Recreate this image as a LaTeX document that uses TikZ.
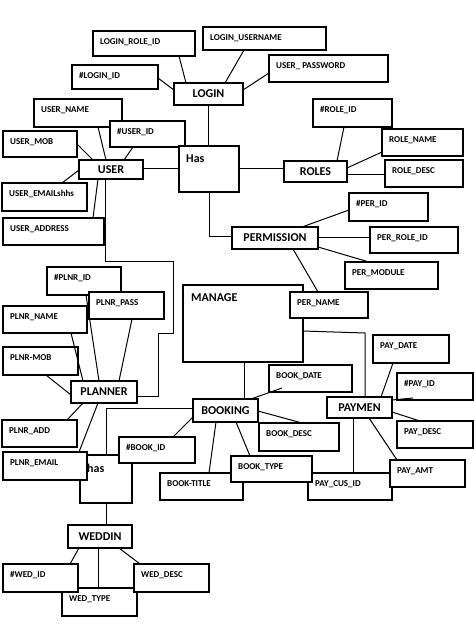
\documentclass[tikz,border=0pt]{standalone}
\usepackage{fontspec}
\setmainfont{Carlito}
\tikzset{
  boxst/.style={draw=black, line width=1.8pt, fill=white, inner sep=0pt, outer sep=0pt, line join=miter},
  attrtxt/.style={font=\fontsize{9}{10}\selectfont\bfseries, inner sep=0pt},
  enttxt/.style={font=\fontsize{12}{14}\selectfont\bfseries},
  reltxt/.style={font=\fontsize{12}{14}\selectfont\bfseries, inner sep=0pt},
  conn/.style={draw=black, line width=1pt},
}
% plain box: name x1 y1 x2 y2
\newcommand\ebox[5]{\node[boxst, minimum width={#4-#2}, minimum height={#5-#3}, anchor=north west] (#1) at (#2,#3) {};}
% attribute box with text at upper left
\newcommand\attr[6]{\ebox{#1}{#2}{#3}{#4}{#5}\node[attrtxt, anchor=base west] (#1-t) at ([shift={(7,13)}]#1.north west) {#6};}
% entity box with centred text
\newcommand\ent[6]{\node[boxst, enttxt, minimum width={#4-#2}, minimum height={#5-#3}, anchor=north west] (#1) at (#2,#3) {#6};}
\begin{document}
\begin{tikzpicture}[x=1pt, y=-1pt]
\useasboundingbox (0,0) rectangle (474,632);
% ---------- boxes ----------
\attr{lri}{93}{31}{195}{56}{LOGIN\_ROLE\_ID}
\attr{lun}{203}{27}{326}{50}{LOGIN\_USERNAME}
\attr{lid}{72}{65}{158}{89}{\#LOGIN\_ID}
\attr{upw}{269}{55}{388}{82}{USER\_ PASSWORD}
\ent{login}{174}{83}{243}{105}{LOGIN}
\attr{uname}{34}{99}{122}{127}{USER\_NAME}
\attr{uid}{110}{121}{185}{147}{\#USER\_ID}
\attr{umob}{3}{131}{77}{157}{USER\_MOB}
\ebox{has1}{179}{146}{239}{192}
\node[reltxt, anchor=base west] (has1-t) at ([shift={(7,16)}]has1.north west) {Has};
\ent{user}{79}{160}{143}{179}{USER}
\attr{uemail}{2}{183}{87}{211}{USER\_EMAILshhs}
\attr{uaddr}{3}{218}{104}{245}{USER\_ADDRESS}
\attr{rid}{313}{99}{392}{127}{\#ROLE\_ID}
\attr{rname}{382}{129}{463}{156}{ROLE\_NAME}
\ent{roles}{284}{161}{347}{182}{ROLES}
\attr{rdesc}{385}{160}{463}{187}{ROLE\_DESC}
\attr{pid}{349}{193}{428}{221}{\#PER\_ID}
\ent{perm}{232}{227}{318}{249}{PERMISSION}
\attr{prid}{370}{227}{458}{253}{PER\_ROLE\_ID}
\attr{pmod}{345}{262}{438}{289}{PER\_MODULE}
\ebox{manage}{183}{285}{303}{362}
\node[reltxt, anchor=base west] (manage-t) at ([shift={(8,16)}]manage.north west) {MANAGE};
\attr{pname}{290}{292}{368}{318}{PER\_NAME}
\attr{plid}{47}{267}{121}{295}{\#PLNR\_ID}
\attr{plpass}{89}{292}{164}{319}{PLNR\_PASS}
\attr{plname}{3}{306}{87}{333}{PLNR\_NAME}
\attr{plmob}{3}{347}{78}{375}{PLNR-MOB}
\ent{planner}{71}{381}{137}{403}{PLANNER}
\attr{pladd}{2}{420}{77}{447}{PLNR\_ADD}
\ebox{has2}{80}{455}{132}{503}
\node[reltxt, anchor=base west] (has2-t) at ([shift={(7,17)}]has2.north west) {has};
\attr{plemail}{3}{452}{87}{480}{PLNR\_EMAIL}
\attr{bid}{119}{437}{195}{463}{\#BOOK\_ID}
\ent{booking}{193}{399}{258}{422}{BOOKING}
\attr{bdate}{269}{365}{352}{392}{BOOK\_DATE}
\attr{bdesc}{259}{423}{339}{451}{BOOK\_DESC}
\attr{btitle}{160}{473}{243}{500}{BOOK-TITLE}
\attr{pcid}{308}{473}{392}{500}{PAY\_CUS\_ID}
\attr{btype}{231}{456}{312}{482}{BOOK\_TYPE}
\attr{pdate}{373}{335}{449}{363}{PAY\_DATE}
\attr{payid}{397}{373}{473}{400}{\#PAY\_ID}
\ent{paymen}{327}{397}{392}{418}{PAYMEN}
\attr{pdesc}{397}{421}{473}{448}{PAY\_DESC}
\attr{pamt}{390}{460}{465}{487}{PAY\_AMT}
\ent{weddin}{68}{525}{132}{548}{WEDDIN}
\attr{wtype}{62}{588}{137}{616}{WED\_TYPE}
\attr{wid}{3}{564}{78}{592}{\#WED\_ID}
\attr{wdesc}{134}{564}{209}{592}{WED\_DESC}
% ---------- connectors ----------
\draw[conn] ([shift={(86,25)}]lri.north west) -- ([shift={(12,0)}]login.north west);
\draw[conn] ([shift={(41,23)}]lun.north west) -- ([shift={(51,0)}]login.north west);
\draw[conn] ([shift={(86,13)}]lid.north west) -- ([shift={(0,7)}]login.north west);
\draw[conn] ([shift={(0,18)}]upw.north west) -- ([shift={(69,7)}]login.north west);
\draw[conn] ([shift={(34,22)}]login.north west) -- ([shift={(29,0)}]has1.north west);
\draw[conn] ([shift={(64,28)}]uname.north west) -- ([shift={(27,0)}]user.north west);
\draw[conn] ([shift={(23,26)}]uid.north west) -- ([shift={(45,0)}]user.north west);
\draw[conn] ([shift={(74,13)}]umob.north west) -- ([shift={(14,0)}]user.north west);
\draw[conn] ([shift={(60,0)}]uemail.north west) -- ([shift={(0,10)}]user.north west);
\draw[conn] ([shift={(19,19)}]user.north west) -- ([shift={(90,0)}]uaddr.north west);
\draw[conn] ([shift={(64,8)}]user.north west) -- ([shift={(0,22)}]has1.north west);
\draw[conn] ([shift={(26,19)}]user.north west) -- ++(0,82) -- ++(68,0) -- ++(0,72) -- ++(-15,0) |- ([shift={(66,15)}]planner.north west);
\draw[conn] ([shift={(60,22)}]has1.north west) -- ([shift={(0,7)}]roles.north west);
\draw[conn] ([shift={(30,46)}]has1.north west) |- ([shift={(0,9)}]perm.north west);
\draw[conn] ([shift={(31,28)}]rid.north west) -- ([shift={(53,0)}]roles.north west);
\draw[conn] ([shift={(0,23)}]rname.north west) -- ([shift={(63,7)}]roles.north west);
\draw[conn] ([shift={(0,14)}]rdesc.north west) -- ([shift={(63,13)}]roles.north west);
\draw[conn] ([shift={(0,17)}]pid.north west) -- ([shift={(70,0)}]perm.north west);
\draw[conn] ([shift={(0,10)}]prid.north west) -- ([shift={(86,10)}]perm.north west);
\draw[conn] ([shift={(24,0)}]pmod.north west) -- ([shift={(86,20)}]perm.north west);
\draw[conn] ([shift={(28,0)}]pname.north west) -- ([shift={(61,22)}]perm.north west);
\draw[conn] ([shift={(61,77)}]manage.north west) -- ([shift={(51,0)}]booking.north west);
\draw[conn] ([shift={(120,46)}]manage.north west) -- ([shift={(38,-64)}]paymen.north west) -- ([shift={(38,0)}]paymen.north west);
\draw[conn] ([shift={(13,23)}]bdate.north west) -- ([shift={(58,0)}]booking.north west);
\draw[conn] ([shift={(65,12)}]booking.north west) -- ([shift={(43,0)}]bdesc.north west);
\draw[conn] ([shift={(43,23)}]booking.north west) -- ([shift={(19,0)}]btype.north west);
\draw[conn] ([shift={(23,23)}]booking.north west) -- ([shift={(49,0)}]btitle.north west);
\draw[conn] ([shift={(0,18)}]booking.north west) -- ([shift={(54,0)}]bid.north west);
\draw[conn] ([shift={(0,9)}]booking.north west) -| ([shift={(26,0)}]has2.north west);
\draw[conn] ([shift={(27,22)}]planner.north west) -- ([shift={(76,0)}]plemail.north west);
\draw[conn] ([shift={(12,22)}]planner.north west) -- ([shift={(65,0)}]pladd.north west);
\draw[conn] ([shift={(43,28)}]plmob.north west) -- ([shift={(0,14)}]planner.north west);
\draw[conn] ([shift={(68,27)}]plname.north west) -- ([shift={(12,0)}]planner.north west);
\draw[conn] ([shift={(39,28)}]plid.north west) -- ([shift={(28,0)}]planner.north west);
\draw[conn] ([shift={(43,27)}]plpass.north west) -- ([shift={(48,0)}]planner.north west);
\draw[conn] ([shift={(26,48)}]has2.north west) -- ([shift={(38,0)}]weddin.north west);
\draw[conn] ([shift={(11,23)}]weddin.north west) -- ([shift={(67,0)}]wid.north west);
\draw[conn] ([shift={(30,23)}]weddin.north west) -- ([shift={(36,0)}]wtype.north west);
\draw[conn] ([shift={(51,23)}]weddin.north west) -- ([shift={(6,0)}]wdesc.north west);
\draw[conn] ([shift={(20,28)}]pdate.north west) -- ([shift={(54,0)}]paymen.north west);
\draw[conn] ([shift={(16,25)}]payid.north west) -- ([shift={(65,3)}]paymen.north west);
\draw[conn] ([shift={(65,15)}]paymen.north west) -- ([shift={(23,0)}]pdesc.north west);
\draw[conn] ([shift={(42,21)}]paymen.north west) -- ([shift={(7,0)}]pamt.north west);
\draw[conn] ([shift={(26,21)}]paymen.north west) -- ([shift={(45,0)}]pcid.north west);
\end{tikzpicture}
\end{document}
